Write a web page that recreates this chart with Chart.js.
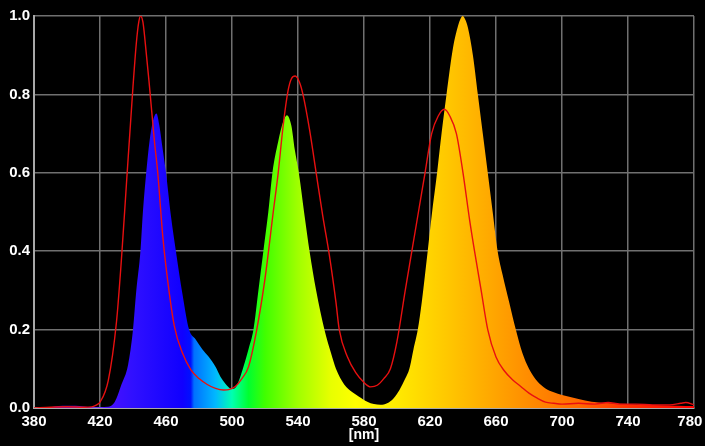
<!DOCTYPE html>
<html>
<head>
<meta charset="utf-8">
<script src="https://cdn.jsdelivr.net/npm/chart.js@4/dist/chart.umd.min.js"></script>
<style>
  html, body { margin: 0; padding: 0; background: #000; }
  canvas { display: block; }
</style>
</head>
<body>
<canvas id="spectrum" width="705" height="446"></canvas>
<script>
// Measured LED spectrum (filled, coloured by wavelength)
const ledNm = [380, 390, 395, 400, 405, 410, 415, 420, 425, 428, 430, 433, 437, 440, 442, 444.5, 446, 448, 450, 452, 454.2, 456, 458, 460, 463, 466, 470, 474, 478, 482, 486, 490, 493, 496, 499, 501, 503, 507, 510, 513, 516, 519, 522, 524.5, 528, 531, 533.3, 536, 538, 540.5, 544, 547, 551, 556, 560, 563, 568, 573, 577, 582, 586, 590, 594, 598, 601.5, 605, 607.5, 610, 612.6, 615, 618.6, 621, 624.3, 627, 630, 634, 637, 638.5, 639.8, 641.5, 643, 646, 649, 652, 655, 658, 661, 664, 668, 672, 676, 680, 685, 690, 695, 700, 705, 710, 718, 730, 740, 750, 760, 770, 780];
const ledVal = [0, 0.002, 0.005, 0.006, 0.006, 0.004, 0.002, 0.002, 0.003, 0.01, 0.025, 0.06, 0.11, 0.2, 0.3, 0.4, 0.5, 0.6, 0.68, 0.73, 0.751, 0.72, 0.66, 0.6, 0.49, 0.4, 0.29, 0.2, 0.175, 0.15, 0.13, 0.105, 0.08, 0.062, 0.05, 0.049, 0.058, 0.106, 0.15, 0.2, 0.3, 0.4, 0.5, 0.6, 0.68, 0.73, 0.747, 0.72, 0.66, 0.6, 0.49, 0.4, 0.3, 0.2, 0.14, 0.1, 0.06, 0.04, 0.029, 0.016, 0.01, 0.008, 0.012, 0.025, 0.046, 0.075, 0.1, 0.15, 0.2, 0.27, 0.4, 0.49, 0.6, 0.7, 0.8, 0.92, 0.975, 0.993, 1.0, 0.99, 0.97, 0.9, 0.8, 0.7, 0.6, 0.5, 0.4, 0.34, 0.27, 0.2, 0.14, 0.1, 0.068, 0.05, 0.04, 0.033, 0.028, 0.023, 0.016, 0.012, 0.01, 0.008, 0.007, 0.006, 0.005];

// Reference spectrum (red line)
const refNm = [380, 390, 400, 410, 415, 418, 420, 425, 430, 433, 436, 440, 442, 443.5, 444.6, 446, 447, 450, 453, 455, 458, 460, 465, 470, 475, 480, 485, 490, 495, 498, 502, 506, 510, 515, 520, 525, 528, 531, 534, 536, 538.3, 541, 543, 547, 551, 555, 559, 563, 565, 570, 575, 580, 584, 588, 592, 596, 600, 605, 609, 613, 617, 621, 625, 628.7, 632, 636, 640, 644, 647, 651, 655, 660, 665, 670, 675, 680, 685, 690, 695, 700, 710, 720, 728, 735, 745, 755, 765, 772, 775, 780];
const refVal = [0, 0.002, 0.003, 0.002, 0.003, 0.008, 0.015, 0.07, 0.22, 0.38, 0.57, 0.82, 0.93, 0.985, 1.0, 0.985, 0.95, 0.82, 0.68, 0.6, 0.44, 0.36, 0.21, 0.14, 0.098, 0.075, 0.06, 0.05, 0.046, 0.047, 0.055, 0.075, 0.105, 0.2, 0.33, 0.5, 0.6, 0.72, 0.81, 0.84, 0.847, 0.83, 0.8, 0.71, 0.6, 0.49, 0.39, 0.27, 0.2, 0.13, 0.09, 0.065, 0.054, 0.058, 0.075, 0.1, 0.17, 0.3, 0.4, 0.5, 0.6, 0.7, 0.745, 0.762, 0.745, 0.7, 0.6, 0.48, 0.4, 0.3, 0.2, 0.13, 0.095, 0.072, 0.055, 0.038, 0.025, 0.015, 0.012, 0.01, 0.012, 0.01, 0.014, 0.01, 0.01, 0.008, 0.008, 0.012, 0.014, 0.008];

// wavelength -> colour stops for the fill
const colourNm = [380, 420, 440, 470, 475, 477, 490, 500, 510, 520, 540, 560, 575, 600, 630, 650, 680, 710, 740, 780];
const colourHex = ['#6000c0', '#5010ff', '#3010ff', '#1000ff', '#0010ff', '#0070ff', '#00b8ff', '#00ffb0', '#00ff30', '#40ff00', '#a0ff00', '#e8ff00', '#ffff00', '#ffea00', '#ffc800', '#ffb000', '#ff8c00', '#ff6a00', '#ff3000', '#ff0000'];

const xTicks = [380, 420, 460, 500, 540, 580, 620, 660, 700, 740, 780];

function spectrumFill(context) {
  const chart = context.chart;
  const x = chart.scales.x;
  if (!chart.chartArea || !x) return '#0000ff';
  const x0 = x.getPixelForValue(380), x1 = x.getPixelForValue(780);
  const g = chart.ctx.createLinearGradient(x0, 0, x1, 0);
  colourNm.forEach((nm, i) => g.addColorStop((nm - 380) / 400, colourHex[i]));
  return g;
}

const ctx = document.getElementById('spectrum').getContext('2d');
new Chart(ctx, {
  type: 'line',
  data: {
    datasets: [{
      label: 'reference',
      data: refNm.map((nm, i) => ({x: nm, y: refVal[i]})),
      borderColor: '#e81010',
      borderWidth: 1.4,
      pointRadius: 0,
      fill: false,
      cubicInterpolationMode: 'monotone',
      order: 0
    }, {
      label: 'LED',
      data: ledNm.map((nm, i) => ({x: nm, y: ledVal[i]})),
      backgroundColor: spectrumFill,
      borderWidth: 0,
      borderColor: 'rgba(0,0,0,0)',
      pointRadius: 0,
      fill: 'origin',
      cubicInterpolationMode: 'monotone',
      order: 1
    }]
  },
  options: {
    responsive: false,
    animation: false,
    layout: {padding: {top: 16, right: 11, left: 0, bottom: 0}},
    plugins: {legend: {display: false}, tooltip: {enabled: false}},
    scales: {
      x: {
        type: 'linear',
        min: 380, max: 780,
        afterFit: s => { s.height = 38; s.paddingLeft = 0; s.paddingRight = 0; },
        afterBuildTicks: s => { s.ticks = Array.from({length: 21}, (_, i) => ({value: 380 + i * 20})); },
        ticks: {
          color: '#fff',
          autoSkip: false,
          maxRotation: 0,
          padding: 5,
          font: {family: 'Liberation Sans', size: 15, weight: 'bold'},
          // last label sits a little left of its grid line, as in the original
          callback: v => xTicks.includes(v) ? (v === 780 ? '780\u00a0\u00a0' : String(v)) : null
        },
        grid: {color: '#707070', lineWidth: 1.5, drawTicks: false},
        border: {color: '#a8a8a8', width: 2},
        title: {
          display: true, text: '[nm]', color: '#fff',
          font: {family: 'Liberation Sans', size: 14, weight: 'bold'},
          padding: {top: 0, bottom: 2}
        }
      },
      y: {
        min: 0, max: 1,
        afterFit: s => { s.width = 34; },
        ticks: {
          color: '#fff',
          stepSize: 0.2,
          padding: 4,
          font: {family: 'Liberation Sans', size: 15, weight: 'bold'},
          callback: v => v.toFixed(1)
        },
        grid: {color: '#707070', lineWidth: 1.5, drawTicks: false},
        border: {color: '#a8a8a8', width: 2}
      }
    }
  }
});
</script>
</body>
</html>
